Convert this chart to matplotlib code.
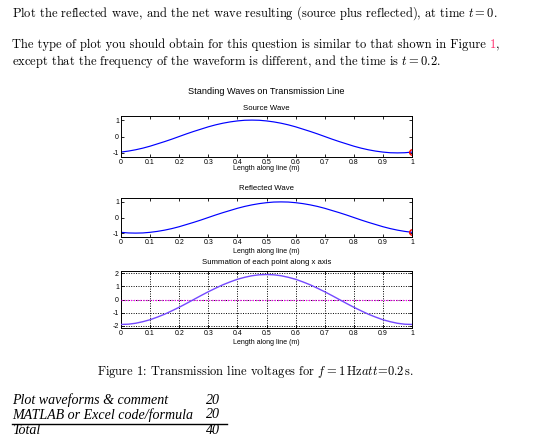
import matplotlib
matplotlib.use("Agg")
import matplotlib.pyplot as plt
from matplotlib.lines import Line2D

plt.rcParams['mathtext.fontset'] = 'cm'
plt.rcParams['axes.unicode_minus'] = False

# ---------------- data ----------------
x_pos = [i * 0.025 for i in range(41)]
source_wave = [-0.95,-0.89,-0.81,-0.71,-0.59,-0.45,-0.31,-0.16,0.00,0.16,0.31,0.45,0.59,0.71,
               0.81,0.89,0.95,0.99,1.00,0.99,0.95,0.89,0.81,0.71,0.59,0.45,0.31,0.16,0.00,
               -0.16,-0.31,-0.45,-0.59,-0.71,-0.81,-0.89,-0.95,-0.99,-1.00,-0.99,-0.95]
reflected_wave = [-0.95,-0.99,-1.00,-0.99,-0.95,-0.89,-0.81,-0.71,-0.59,-0.45,-0.31,-0.16,0.00,
                  0.16,0.31,0.45,0.59,0.71,0.81,0.89,0.95,0.99,1.00,0.99,0.95,0.89,0.81,0.71,
                  0.59,0.45,0.31,0.16,0.00,-0.16,-0.31,-0.45,-0.59,-0.71,-0.81,-0.89,-0.95]
sum_wave = [-1.90,-1.88,-1.81,-1.69,-1.54,-1.34,-1.12,-0.86,-0.59,-0.30,0.00,0.30,0.59,0.86,
            1.12,1.34,1.54,1.69,1.81,1.88,1.90,1.88,1.81,1.69,1.54,1.34,1.12,0.86,0.59,0.30,
            0.00,-0.30,-0.59,-0.86,-1.12,-1.34,-1.54,-1.69,-1.81,-1.88,-1.90]
end_x = 1.0
source_end = -0.95
reflected_end = -0.95
x_ticks = [0, 0.1, 0.2, 0.3, 0.4, 0.5, 0.6, 0.7, 0.8, 0.9, 1]
x_tick_labels = ['0', '0.1', '0.2', '0.3', '0.4', '0.5', '0.6', '0.7', '0.8', '0.9', '1']
y_ticks_small = [-1, 0, 1]
y_ticks_sum = [-2, -1, 0, 1, 2]

table_items = ["Plot waveforms & comment", "MATLAB or Excel code/formula"]
table_marks = ["20", "20"]
total_label = "Total"
total_mark = "40"

# ---------------- figure ----------------
W, H = 539, 447
fig = plt.figure(figsize=(W / 100, H / 100), dpi=100)

def fy(y):
    return 1 - y / H

def fx(x):
    return x / W

def make_ax(top, bottom):
    ax = fig.add_axes([fx(121), fy(bottom), fx(412 - 121), (bottom - top) / H])
    ax.tick_params(direction='in', length=2.5, width=0.6, top=True, right=True,
                   labelsize=5, pad=1.5)
    for s in ax.spines.values():
        s.set_linewidth(0.7)
    ax.set_xlim(0, 1)
    ax.set_xticks(x_ticks)
    ax.set_xticklabels(x_tick_labels, family='Liberation Sans')
    return ax

sans = dict(family='Liberation Sans', ha='center', va='center')
cx = fx((121 + 412) / 2)

ax1 = make_ax(116, 157)
ax1.plot(x_pos, source_wave, color='#0000ff', lw=0.85)
ax1.plot([end_x], [source_end], 'o', mfc='none', mec='red', ms=4, mew=1.0)
ax1.set_ylim(-1.25, 1.25)
ax1.set_yticks(y_ticks_small)
ax1.set_yticklabels([str(v) for v in y_ticks_small], family='Liberation Sans')

ax2 = make_ax(198, 237)
ax2.plot(x_pos, reflected_wave, color='#0000ff', lw=0.85)
ax2.plot([end_x], [reflected_end], 'o', mfc='none', mec='red', ms=4, mew=1.0)
ax2.set_ylim(-1.25, 1.25)
ax2.set_yticks(y_ticks_small)
ax2.set_yticklabels([str(v) for v in y_ticks_small], family='Liberation Sans')

ax3 = make_ax(271, 328)
ax3.grid(True, color='black', linestyle=(0, (1, 1.5)), linewidth=0.7)
ax3.axhline(0, color='#ff00ff', linestyle=(0, (1, 1.5)), linewidth=0.9, zorder=3)
ax3.plot(x_pos, sum_wave, color='#7448ff', lw=1.0, zorder=4)
ax3.set_ylim(-2.17, 2.17)
ax3.set_yticks(y_ticks_sum)
ax3.set_yticklabels([str(v) for v in y_ticks_sum], family='Liberation Sans')

fig.text(cx, fy(91), "Standing Waves on Transmission Line", fontsize=6.6, **sans)
fig.text(cx, fy(109), "Source Wave", fontsize=5.6, **sans)
fig.text(cx, fy(189), "Reflected Wave", fontsize=5.6, **sans)
fig.text(cx, fy(262), "Summation of each point along x axis", fontsize=5.6, **sans)
for yl in (169, 251, 342):
    fig.text(cx, fy(yl), "Length along line (m)", fontsize=5, **sans)

# ---------------- document text ----------------
serif = dict(family='cmr10', va='center', ha='left')
fs = 9.0
fig.text(fx(12), fy(13),
         r"Plot the reflected wave, and the net wave resulting (source plus reflected), at time $t = 0$.",
         fontsize=fs, **serif)
t2 = fig.text(fx(12), fy(45),
              "The type of plot you should obtain for this question is similar to that shown in Figure ",
              fontsize=fs, **serif)
fig.canvas.draw()
r = fig.canvas.get_renderer()
bb = t2.get_window_extent(renderer=r)
t3 = fig.text(bb.x1 / W, fy(45), "1", color='#ff2f6e', fontsize=fs, **serif)
bb3 = t3.get_window_extent(renderer=r)
fig.text(bb3.x1 / W, fy(45), ",", fontsize=fs, **serif)
fig.text(fx(12), fy(61),
         r"except that the frequency of the waveform is different, and the time is $t = 0.2$.",
         fontsize=fs, **serif)

fig.text(fx(97), fy(371),
         r"Figure 1: Transmission line voltages for $f = 1\,\mathrm{Hz}att\!=\!0.2\,\mathrm{s}$.",
         fontsize=fs, **serif)

ital = dict(family='Liberation Serif', style='italic', va='center', fontsize=10.1)
for i, (item, mark) in enumerate(zip(table_items, table_marks)):
    yy = fy(400 + 15 * i)
    fig.text(fx(12), yy, item, ha='left', **ital)
    fig.text(fx(220), yy, mark, ha='right', **ital)
fig.add_artist(Line2D([fx(12), fx(227)], [fy(424), fy(424)], color='black', lw=1.0))
fig.text(fx(12), fy(431), total_label, ha='left', **ital)
fig.text(fx(220), fy(431), total_mark, ha='right', **ital)

fig.savefig("out.png", dpi=100)
